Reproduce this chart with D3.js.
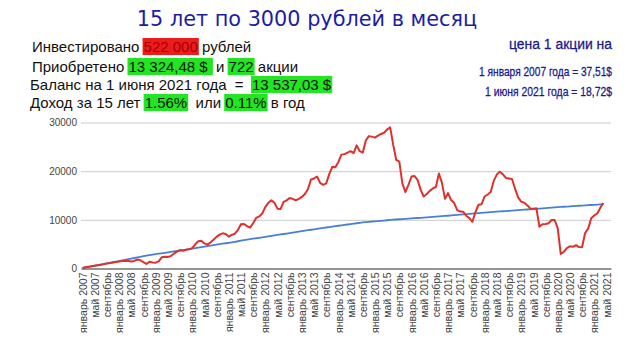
<!DOCTYPE html>
<html><head><meta charset="utf-8">
<script src="https://cdn.jsdelivr.net/npm/d3@7"></script>
<style>
html,body{margin:0;padding:0;background:#fff;}
svg{display:block;}
</style></head>
<body>
<svg id="c" width="640" height="360"></svg>
<script>
// ---- data ----
const title = "15 лет по 3000 рублей в месяц";
const tickLabels = [
"январь 2007","май 2007","сентябрь","январь 2008","май 2008","сентябрь",
"январь 2009","май 2009","сентябрь","январь 2010","май 2010","сентябрь",
"январь 2011","май 2011","сентябрь","январь 2012","май 2012","сентябрь",
"январь 2013","май 2013","сентябрь","январь 2014","май 2014","сентябрь",
"январь 2015","май 2015","сентябрь","январь 2016","май 2016","сентябрь",
"январь 2017","май 2017","сентябрь","январь 2018","май 2018","сентябрь",
"январь 2019","май 2019","сентябрь","январь 2020","май 2020","сентябрь",
"январь 2021","май 2021"];
const monthCount = 174; // январь 2007 … июнь 2021
const yTicks = [0, 10000, 20000, 30000];
// баланс портфеля, $ (помесячно, январь 2007 – апрель 2021)
const balance = [
120,240,360,470,580,690,790,900,1010,1150,1250,1350,
1450,1520,1580,1560,1450,1550,1850,1700,1300,930,1400,1250,
1200,1450,2300,2430,2350,2550,3050,3450,3800,3650,3850,3950,
4200,4970,5600,5700,5150,4900,5350,5900,6500,6950,7230,7100,
6550,6900,7150,7900,9100,9150,8700,8400,9300,10400,10700,11300,
12600,13500,14000,13500,12300,12200,13700,14000,14500,14300,14000,14300,
14700,15300,16300,18300,18500,18900,17600,17200,17500,19400,20900,20800,
21900,23400,23500,23800,24100,23700,25300,24100,23800,26300,27200,27100,
26900,27300,27640,27900,28550,29000,25400,22300,21950,17500,15700,17200,
18900,19000,18200,16200,14800,15300,15950,16450,16750,19500,17600,14300,
15500,14050,13500,12000,11700,11650,10800,10350,9600,11600,13100,13200,
14800,15200,15700,18000,19300,19900,19350,18600,18500,18400,16400,14600,
13750,13500,13000,12350,12300,12370,8600,9100,9150,9300,9970,9970,
8300,3000,3400,4200,4550,4450,4800,4400,4360,7300,8200,10320,
10900,11300,12500,13450];
// вложено нарастающим итогом, $
const invested = [
113,227,342,458,574,690,806,923,1042,1163,1285,1407,
1529,1652,1778,1906,2032,2159,2288,2411,2530,2643,2752,2857,
2951,3036,3123,3212,3307,3404,3499,3594,3692,3794,3897,3999,
4099,4199,4301,4404,4504,4601,4699,4797,4894,4992,5089,5186,
5286,5389,5494,5601,5708,5815,5922,6025,6122,6217,6314,6409,
6506,6608,6710,6812,6909,7000,7092,7186,7281,7378,7473,7570,
7670,7769,7866,7961,8056,8148,8239,8330,8422,8516,8607,8698,
8786,8871,8954,9039,9125,9212,9299,9382,9462,9536,9601,9655,
9702,9748,9798,9856,9916,9972,10025,10071,10116,10164,10210,10253,
10292,10331,10374,10419,10465,10511,10558,10604,10650,10698,10745,10793,
10843,10895,10948,11002,11055,11107,11157,11207,11259,11311,11362,11413,
11466,11519,11572,11621,11669,11717,11765,11810,11854,11900,11945,11990,
12035,12081,12127,12174,12220,12267,12315,12361,12407,12454,12501,12549,
12597,12644,12685,12725,12766,12809,12851,12891,12931,12969,13008,13049,
13090,13130,13170,13210];

// ---- text block ----
const infoLines = [
  [{t:"Инвестировано "},{t:"522 000",box:"red"},{t:" рублей"}],
  [{t:"Приобретено "},{t:"13 324,48 $ ",box:"green"},{t:" и "},{t:"722",box:"green"},{t:" акции"}],
  [{t:"Баланс на 1 июня 2021 года  =  "},{t:"13 537,03 $",box:"green"}],
  [{t:"Доход за 15 лет "},{t:"1.56%",box:"green"},{t:"  или "},{t:"0.11%",box:"green"},{t:" в год"}]
];
const priceLines = ["цена 1 акции на","1 января 2007 года = 37,51$","1 июня 2021 года = 18,72$"];

const svg = d3.select("#c");
const plot = {left:81, right:611, top:122.5, bottom:268.5};

const x = d3.scaleLinear().domain([-0.5, monthCount-0.5]).range([plot.left, plot.right]);
const y = d3.scaleLinear().domain([0, 30000]).range([plot.bottom, plot.top]);

// title
svg.append("text").attr("x",307).attr("y",26).attr("text-anchor","middle")
  .attr("font-family","DejaVu Sans, Verdana, sans-serif").attr("font-size",20.8)
  .attr("fill","#1c1ca6").text(title);

// info lines
const lineY = [52, 72, 90, 108];
const lineX = [32, 32, 30, 30];
const boxColor = {red:"#ec1c1c", green:"#22e622"};
infoLines.forEach((parts, li) => {
  let cx = lineX[li];
  const g = svg.append("g");
  parts.forEach(p => {
    const t = g.append("text").attr("x",cx).attr("y",lineY[li])
      .attr("font-family","Liberation Sans, Arial, sans-serif").attr("font-size",15)
      .attr("fill", p.box==="red" ? "#a80000" : "#111")
      .style("white-space","pre").text(p.t);
    const w = t.node().getComputedTextLength();
    if (p.box) {
      g.insert("rect","text").attr("x",cx-1).attr("y",lineY[li]-14).attr("width",w+2).attr("height",17)
        .attr("fill", boxColor[p.box]);
    }
    cx += w;
  });
});

// price lines (right aligned, condensed via horizontal scale)
const priceY = [49, 76, 96];
const priceSize = [15, 13.5, 13.5];
const priceW = [103, 133, 127];
priceLines.forEach((s,i)=>{
  const g = svg.append("g");
  const t = g.append("text").attr("x",0).attr("y",0).attr("text-anchor","end")
    .attr("font-family","Liberation Sans, Arial, sans-serif")
    .attr("font-size",priceSize[i]).attr("fill","#1a1a8a")
    .attr("stroke","#1a1a8a").attr("stroke-width",0.3)
    .text(s);
  const nat = t.node().getComputedTextLength();
  g.attr("transform",`translate(612,${priceY[i]}) scale(${priceW[i]/nat},1)`);
});

// grid + y axis
const yAxis = d3.axisLeft(y).tickValues(yTicks).tickSize(-(plot.right-plot.left)).tickFormat(d3.format("d"));
const gy = svg.append("g").attr("transform",`translate(${plot.left},0)`).call(yAxis);
gy.select(".domain").remove();
gy.selectAll(".tick line").attr("stroke","#cccccc").attr("stroke-width",1);
gy.selectAll(".tick text").attr("x",-4).attr("fill","#444").attr("font-size",10)
  .attr("font-family","Liberation Sans, Arial, sans-serif");

// x axis
const tickIdx = tickLabels.map((_,i)=>i*4);
const xAxis = d3.axisBottom(x).tickValues(tickIdx).tickSize(0).tickFormat((d,i)=>tickLabels[i]);
const gx = svg.append("g").attr("transform",`translate(0,${plot.bottom})`).call(xAxis);
gx.select(".domain").attr("stroke","#444").attr("stroke-width",1.2);
gx.selectAll(".tick text")
  .attr("font-family","Liberation Sans, Arial, sans-serif").attr("font-size",10.5).attr("fill","#444")
  .attr("text-anchor","end").attr("transform","rotate(-90)").attr("x",-4).attr("y",0).attr("dy","0.35em");

// lines
const line = d3.line().x((d,i)=>x(i)).y(d=>y(d));
svg.append("path").datum(invested).attr("d",line).attr("fill","none")
  .attr("stroke","#4a7fd6").attr("stroke-width",1.8);
svg.append("path").datum(balance).attr("d",line).attr("fill","none")
  .attr("stroke","#e0302c").attr("stroke-width",2).attr("stroke-linejoin","round");
</script>
</body></html>
